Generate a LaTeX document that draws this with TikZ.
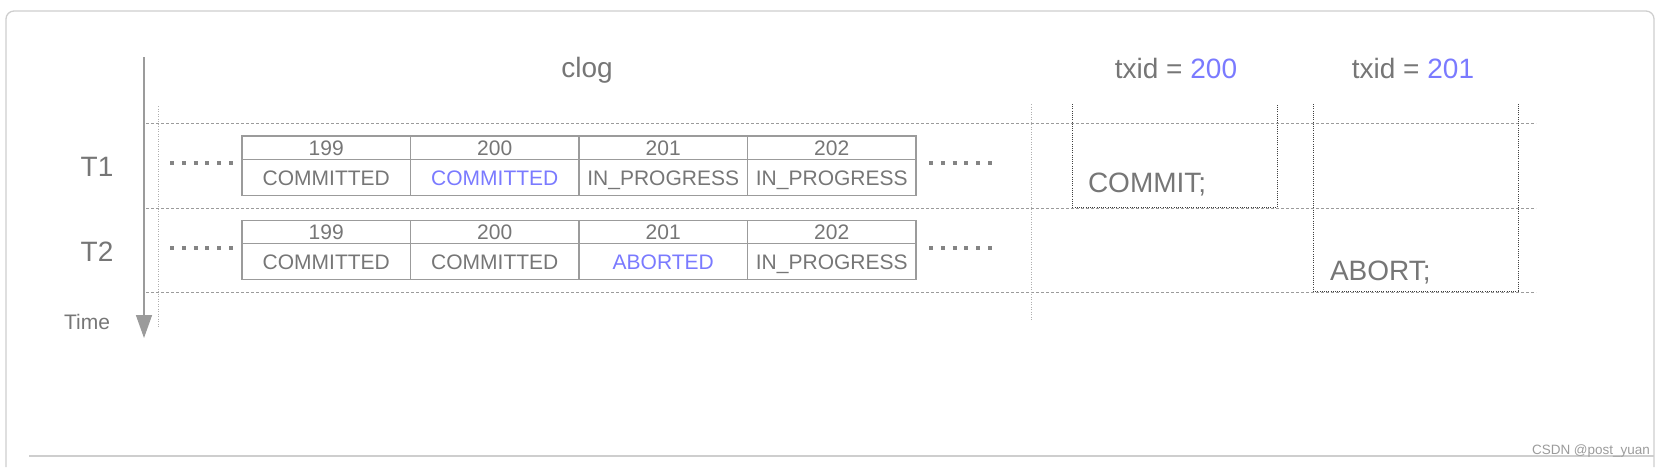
\documentclass[tikz,border=0pt]{standalone}
\usepackage{fontspec}
\setmainfont{Liberation Sans}
\usetikzlibrary{positioning}
\usetikzlibrary{arrows.meta}
\definecolor{txtgray}{RGB}{118,118,118}
\definecolor{idblue}{RGB}{122,122,255}
\definecolor{linegray}{RGB}{155,155,155}
\definecolor{framegray}{RGB}{206,206,206}

\begin{document}
\begin{tikzpicture}[x=1pt,y=-1pt,
  every node/.style={text=txtgray,inner sep=0pt,outer sep=0pt},
  cell/.style={draw=linegray,line width=1.3pt,minimum width=168.5pt,
    text height=15pt,text depth=0pt,font=\fontsize{21}{21}\selectfont},
  idcell/.style={cell,minimum height=23.5pt},
  stcell/.style={cell,minimum height=36pt},
  rowsep/.style={draw=linegray,dash pattern=on 3pt off 2pt,line width=0.9pt},
  guide/.style={draw=linegray!80,dash pattern=on 1pt off 1.5pt,line width=0.9pt},
  boxedge/.style={draw=black!75,dash pattern=on 1pt off 1.2pt,line width=1pt},
  big/.style={font=\fontsize{28}{28}\selectfont},
  ellip/.style={draw=txtgray!90,line width=4pt,dash pattern=on 4pt off 7.8pt}]

\useasboundingbox (0,0) rectangle (1665,467);
\draw[framegray,line width=1.3pt,rounded corners=8pt] (6,467) -- (6,11) -- (1654,11) -- (1654,467);
\draw[framegray,line width=1.3pt] (29,456) -- (1654,456);

% time axis
\coordinate (ttop) at (144,57);
\coordinate (ttip) at (144,338);
\draw[linegray,line width=1.5pt,-{Triangle[length=23pt,width=16pt]}] (ttop) -- (ttip);
\node[anchor=base,font=\fontsize{21}{21}\selectfont] (time) at (87,329) {Time};
\node[big,anchor=base] (t1) at (97,176) {T1};
\node[big,anchor=base] (t2) at (97,261) {T2};

% guides
\foreach \y in {123,208,292}
  \draw[rowsep] (146,\y) -- (1536,\y);
\draw[guide] (158,106) -- (158,327);
\draw[guide] (1031,104) -- (1031,320);

% headers
\node[big,anchor=base] (clog) at (587,77) {clog};
\node[big,anchor=base] (tx200) at (1176,78) {txid = \textcolor{idblue}{200}};
\node[big,anchor=base] (tx201) at (1413,78) {txid = \textcolor{idblue}{201}};

% clog at T1
\foreach \n/\s [count=\i] in {199/COMMITTED,200/\textcolor{idblue}{COMMITTED},201/IN\_PROGRESS,202/IN\_PROGRESS}{
  \node[idcell] (a\i) at (157.75+168.5*\i,147.75) {\n};
  \node[stcell,below=0pt of a\i] (as\i) {\s};
}
% clog at T2
\foreach \n/\s [count=\i] in {199/COMMITTED,200/COMMITTED,201/\textcolor{idblue}{ABORTED},202/IN\_PROGRESS}{
  \node[idcell] (b\i) at (157.75+168.5*\i,232) {\n};
  \node[stcell,below=0pt of b\i] (bs\i) {\s};
}
% ellipses
\foreach \y in {163,248}{
  \draw[ellip] (170,\y) -- (234,\y);
  \draw[ellip] (929,\y) -- (993,\y);
}

% transactions
\draw[boxedge] (1072,104) -- (1072,207) -- (1277,207) -- (1277,104);
\draw[boxedge] (1313,104) -- (1313,291) -- (1518,291) -- (1518,104);
\node[big,anchor=base west] (commit) at (1088,192) {COMMIT;};
\node[big,anchor=base west] (abort) at (1330,280) {ABORT;};

\node[anchor=base east,font=\fontsize{13.5}{13.5}\selectfont,text=linegray] (mark) at (1650,454) {CSDN @post\_yuan};
\end{tikzpicture}
\end{document}
